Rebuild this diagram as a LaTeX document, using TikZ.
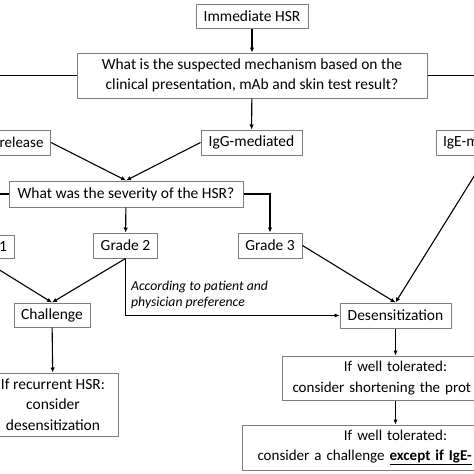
\documentclass[tikz,border=0pt]{standalone}
\usepackage{fontspec}
\setmainfont{Carlito}
\usetikzlibrary{arrows.meta,calc}
\definecolor{boxgray}{RGB}{125,125,125}
\begin{document}
\begin{tikzpicture}[x=1pt,y=-1pt,
  box/.style={draw=boxgray, line width=1pt, fill=white, inner xsep=7pt, inner ysep=0pt,
    minimum height=25pt, align=center, font=\fontsize{15.5}{20.5}\selectfont},
  edgebox/.style={box, font=\fontsize{15}{20.5}\selectfont},
  lab/.style={inner sep=1pt, align=left, font=\fontsize{13.7}{16}\selectfont\itshape},
  ln/.style={line width=1.1pt, black},
  arr/.style={ln, -{Latex[length=5pt,width=4.5pt]}}]
\useasboundingbox (0,0) rectangle (474,474);
\clip (0,0) rectangle (474,474);
\fill[white] (0,0) rectangle (474,474);

\node[box, minimum width=112pt, minimum height=24pt] (imm) at (252,16) {Immediate HSR};
\node[box, minimum width=350pt, minimum height=45pt] (mech) at (252,75.5)
  {What is the suspected mechanism based on the\\clinical presentation, mAb and skin test result?};
\node[edgebox, anchor=east, text width=100pt, align=right] (rel) at (51,142.5) {release};
\node[box, minimum width=101pt] (igg) at (251.5,142.5) {IgG-mediated};
\node[box, text width=88pt, align=left] (ige) at (487,142.5) {IgE-m};
\node[box, minimum width=234pt, minimum height=26pt] (sev) at (126,194) {What was the severity of the HSR?};
\node[box, text width=52pt, align=right, minimum height=23pt] (g1) at (-19,246.5) {1};
\node[box, minimum width=63pt] (g2) at (125.5,245.5) {Grade 2};
\node[box, minimum width=64pt] (g3) at (270,245.5) {Grade 3};
\node[box, minimum width=76pt, minimum height=24pt] (chal) at (52,315) {Challenge};
\node[box, minimum width=111pt] (des) at (395.5,315.5) {Desensitization};
\node[box, minimum width=130pt, minimum height=63pt] (rec) at (53,404.5)
  {If recurrent HSR:\\consider\\desensitization};
\node[edgebox, anchor=west, text width=206pt, align=left, inner xsep=10pt, minimum height=44pt] (short) at (282,378)
  {\makebox[206pt][c]{If well tolerated:}\\consider shortening the prot};
\node[edgebox, anchor=west, text width=276pt, align=left, inner xsep=15pt, minimum height=45pt] (chal2) at (242,447.5)
  {\makebox[276pt][c]{If well tolerated:}\\consider a challenge \underline{\textbf{except if IgE-}}};
\node[lab, anchor=west] (pref) at (130,295) {According to patient and\\physician preference};

\coordinate (lfree) at (-5,75.5);
\coordinate (rfree) at (480,75.5);
\coordinate (sfree) at (-5,194);

\draw[arr] (imm) -- (mech);
\draw[arr] (mech) -- (igg);
\draw[ln] (mech.west) -- (lfree);
\draw[ln] (mech.east) -- (rfree);
\draw[arr] (rel.east) -- (sev.north);
\draw[arr] (igg.west) -- (sev.north);
\draw[ln] (sfree) -- (sev.west);
\draw[arr] (sev) -- (g2);
\draw[arr] (sev.east) -| (g3.north);
\draw[arr] (g1.south) -- (chal.north);
\draw[arr] (g2.south) -- (chal.north);
\draw[arr] (g2.south) |- (des.west);
\draw[arr] (g3.east) -- (des.north);
\draw[arr] (ige.south) -- (des.north);
\draw[arr] (chal) -- (rec);
\draw[arr] (des.south) -- (des.south |- short.north);
\draw[arr] (short) -- (chal2);
\end{tikzpicture}
\end{document}
